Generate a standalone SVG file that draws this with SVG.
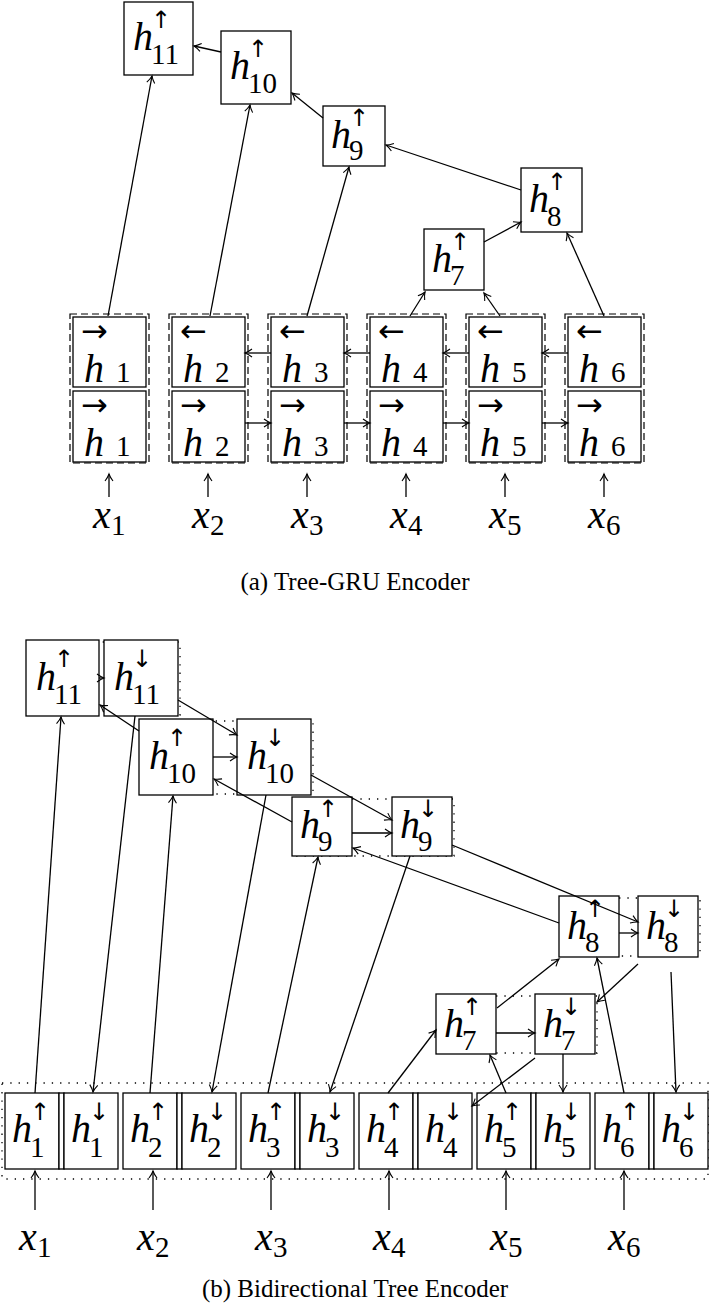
<svg xmlns="http://www.w3.org/2000/svg" width="710" height="1307" viewBox="0 0 710 1307">
<style>
.b{fill:#fff;stroke:#000;stroke-width:1.3}
.dash{fill:none;stroke:#000;stroke-width:1.2;stroke-dasharray:7,4}
.dot{fill:none;stroke:#000;stroke-width:1.3;stroke-dasharray:1.3,7}
.c line{stroke:#000;stroke-width:1.3;marker-end:url(#a)}
.h{font-family:'Liberation Serif','DejaVu Serif',serif;font-style:italic;font-size:40px}
.s{font-family:'Liberation Serif','DejaVu Serif',serif;font-style:normal;font-size:29px}
.ar{font-family:'DejaVu Sans',sans-serif;font-size:24px}
.ov{font-family:'DejaVu Sans',sans-serif;font-size:32px}
.cap{font-family:'Liberation Serif','DejaVu Serif',serif;font-size:25px}
</style>
<defs>
<marker id="a" markerWidth="10" markerHeight="10" refX="8" refY="5" orient="auto" markerUnits="userSpaceOnUse">
<path d="M1,1 Q5,4 8,5 Q5,6 1,9" fill="none" stroke="#000" stroke-width="1.1"/>
</marker>
</defs>

<!-- (a) -->
<g id="a-cols">
<g id="a-c1"><rect class="dash" x="70" y="314" width="79" height="149"/><rect class="b" x="73" y="317" width="73" height="70"/><rect class="b" x="73" y="391" width="73" height="71"/></g>
<g id="a-c2"><rect class="dash" x="169" y="314" width="79" height="149"/><rect class="b" x="172" y="317" width="73" height="70"/><rect class="b" x="172" y="391" width="73" height="71"/></g>
<g id="a-c3"><rect class="dash" x="268" y="314" width="79" height="149"/><rect class="b" x="271" y="317" width="73" height="70"/><rect class="b" x="271" y="391" width="73" height="71"/></g>
<g id="a-c4"><rect class="dash" x="367" y="314" width="79" height="149"/><rect class="b" x="370" y="317" width="73" height="70"/><rect class="b" x="370" y="391" width="73" height="71"/></g>
<g id="a-c5"><rect class="dash" x="466" y="314" width="79" height="149"/><rect class="b" x="469" y="317" width="73" height="70"/><rect class="b" x="469" y="391" width="73" height="71"/></g>
<g id="a-c6"><rect class="dash" x="565" y="314" width="79" height="149"/><rect class="b" x="568" y="317" width="73" height="70"/><rect class="b" x="568" y="391" width="73" height="71"/></g>
</g>
<g id="a-labels">
<text class="ov" x="81" y="342">→</text><text class="h" x="84" y="382">h</text><text class="s" x="116" y="382">1</text>
<text class="ov" x="81" y="416">→</text><text class="h" x="84" y="456">h</text><text class="s" x="116" y="456">1</text>
<text class="ov" x="180" y="342">←</text><text class="h" x="183" y="382">h</text><text class="s" x="215" y="382">2</text>
<text class="ov" x="180" y="416">→</text><text class="h" x="183" y="456">h</text><text class="s" x="215" y="456">2</text>
<text class="ov" x="279" y="342">←</text><text class="h" x="282" y="382">h</text><text class="s" x="314" y="382">3</text>
<text class="ov" x="279" y="416">→</text><text class="h" x="282" y="456">h</text><text class="s" x="314" y="456">3</text>
<text class="ov" x="378" y="342">←</text><text class="h" x="381" y="382">h</text><text class="s" x="413" y="382">4</text>
<text class="ov" x="378" y="416">→</text><text class="h" x="381" y="456">h</text><text class="s" x="413" y="456">4</text>
<text class="ov" x="477" y="342">←</text><text class="h" x="480" y="382">h</text><text class="s" x="512" y="382">5</text>
<text class="ov" x="477" y="416">→</text><text class="h" x="480" y="456">h</text><text class="s" x="512" y="456">5</text>
<text class="ov" x="576" y="342">←</text><text class="h" x="579" y="382">h</text><text class="s" x="611" y="382">6</text>
<text class="ov" x="576" y="416">→</text><text class="h" x="579" y="456">h</text><text class="s" x="611" y="456">6</text>
</g>
<g id="a-h11"><rect class="b" x="124" y="2" width="69" height="73"/><text class="h" x="133" y="50">h</text><text class="ar" x="151" y="28">↑</text><text class="s" x="151" y="64">11</text></g>
<g id="a-h10"><rect class="b" x="221" y="31" width="70" height="73"/><text class="h" x="230" y="79">h</text><text class="ar" x="248" y="57">↑</text><text class="s" x="248" y="93">10</text></g>
<g id="a-h9"><rect class="b" x="323" y="106" width="62" height="60"/><text class="h" x="331" y="148">h</text><text class="ar" x="349" y="126">↑</text><text class="s" x="349" y="160">9</text></g>
<g id="a-h8"><rect class="b" x="521" y="168" width="61" height="64"/><text class="h" x="529" y="212">h</text><text class="ar" x="547" y="190">↑</text><text class="s" x="547" y="226">8</text></g>
<g id="a-h7"><rect class="b" x="424" y="229" width="60" height="61"/><text class="h" x="432" y="272">h</text><text class="ar" x="450" y="250">↑</text><text class="s" x="450" y="285">7</text></g>
<g id="a-conn" class="c">
<line x1="108" y1="316" x2="152" y2="76"/>
<line x1="210" y1="316" x2="250" y2="105"/>
<line x1="307" y1="316" x2="349" y2="167"/>
<line x1="410" y1="316" x2="425" y2="292"/>
<line x1="500" y1="316" x2="484" y2="293"/>
<line x1="604" y1="316" x2="567" y2="233"/>
<line x1="484" y1="242" x2="521" y2="222"/>
<line x1="521" y1="190" x2="386" y2="145"/>
<line x1="323" y1="118" x2="292" y2="93"/>
<line x1="221" y1="52" x2="194" y2="46"/>
<line x1="271" y1="353" x2="245" y2="353"/><line x1="370" y1="353" x2="344" y2="353"/><line x1="469" y1="353" x2="443" y2="353"/><line x1="568" y1="353" x2="542" y2="353"/>
<line x1="245" y1="423" x2="271" y2="423"/><line x1="344" y1="423" x2="370" y2="423"/><line x1="443" y1="423" x2="469" y2="423"/><line x1="542" y1="423" x2="568" y2="423"/>
<line x1="109" y1="497" x2="109" y2="474"/><line x1="208" y1="497" x2="208" y2="474"/><line x1="307" y1="497" x2="307" y2="474"/><line x1="406" y1="497" x2="406" y2="474"/><line x1="505" y1="497" x2="505" y2="474"/><line x1="604" y1="497" x2="604" y2="474"/>
</g>
<g id="a-x">
<text class="h" x="93" y="528">x</text><text class="s" x="111" y="535">1</text>
<text class="h" x="192" y="528">x</text><text class="s" x="210" y="535">2</text>
<text class="h" x="291" y="528">x</text><text class="s" x="309" y="535">3</text>
<text class="h" x="390" y="528">x</text><text class="s" x="408" y="535">4</text>
<text class="h" x="489" y="528">x</text><text class="s" x="507" y="535">5</text>
<text class="h" x="588" y="528">x</text><text class="s" x="606" y="535">6</text>
</g>
<text class="cap" x="355" y="590" text-anchor="middle">(a)  Tree-GRU Encoder</text>

<!-- (b) -->
<g id="b-dots">
<rect class="dot" x="28" y="642" width="152" height="73"/>
<rect class="dot" x="141" y="721" width="172" height="73"/>
<rect class="dot" x="294" y="799" width="160" height="57"/>
<rect class="dot" x="561" y="898" width="139" height="58"/>
<rect class="dot" x="438" y="996" width="159" height="57"/>
<rect class="dot" x="2" y="1083" width="706" height="96"/>
</g>
<g id="b-h11u"><rect class="b" x="26" y="640" width="73" height="76"/><text class="h" x="36" y="690">h</text><text class="ar" x="54" y="667">↑</text><text class="s" x="54" y="704">11</text></g>
<g id="b-h11d"><rect class="b" x="104" y="640" width="74" height="76"/><text class="h" x="114" y="690">h</text><text class="ar" x="132" y="667">↓</text><text class="s" x="132" y="704">11</text></g>
<g id="b-h10u"><rect class="b" x="139" y="719" width="74" height="76"/><text class="h" x="149" y="769">h</text><text class="ar" x="167" y="746">↑</text><text class="s" x="167" y="783">10</text></g>
<g id="b-h10d"><rect class="b" x="237" y="719" width="74" height="76"/><text class="h" x="247" y="769">h</text><text class="ar" x="265" y="746">↓</text><text class="s" x="265" y="783">10</text></g>
<g id="b-h9u"><rect class="b" x="292" y="797" width="60" height="59"/><text class="h" x="300" y="838">h</text><text class="ar" x="318" y="817">↑</text><text class="s" x="318" y="851">9</text></g>
<g id="b-h9d"><rect class="b" x="392" y="797" width="60" height="59"/><text class="h" x="400" y="838">h</text><text class="ar" x="418" y="817">↓</text><text class="s" x="418" y="851">9</text></g>
<g id="b-h8u"><rect class="b" x="559" y="896" width="60" height="61"/><text class="h" x="567" y="939">h</text><text class="ar" x="585" y="917">↑</text><text class="s" x="585" y="952">8</text></g>
<g id="b-h8d"><rect class="b" x="638" y="896" width="60" height="61"/><text class="h" x="646" y="939">h</text><text class="ar" x="664" y="917">↓</text><text class="s" x="664" y="952">8</text></g>
<g id="b-h7u"><rect class="b" x="436" y="994" width="60" height="60"/><text class="h" x="444" y="1037">h</text><text class="ar" x="462" y="1015">↑</text><text class="s" x="462" y="1050">7</text></g>
<g id="b-h7d"><rect class="b" x="535" y="994" width="60" height="60"/><text class="h" x="543" y="1037">h</text><text class="ar" x="561" y="1015">↓</text><text class="s" x="561" y="1050">7</text></g>
<g id="b-bottom">
<g id="b-p1"><rect class="b" x="5" y="1093" width="54" height="76"/><rect class="b" x="59" y="1093" width="5" height="76"/><rect class="b" x="64" y="1093" width="54" height="76"/><text class="h" x="12" y="1142">h</text><text class="ar" x="30" y="1120">↑</text><text class="s" x="30" y="1157">1</text><text class="h" x="71" y="1142">h</text><text class="ar" x="89" y="1120">↓</text><text class="s" x="89" y="1157">1</text></g>
<g id="b-p2"><rect class="b" x="123" y="1093" width="54" height="76"/><rect class="b" x="177" y="1093" width="5" height="76"/><rect class="b" x="182" y="1093" width="54" height="76"/><text class="h" x="130" y="1142">h</text><text class="ar" x="148" y="1120">↑</text><text class="s" x="148" y="1157">2</text><text class="h" x="189" y="1142">h</text><text class="ar" x="207" y="1120">↓</text><text class="s" x="207" y="1157">2</text></g>
<g id="b-p3"><rect class="b" x="241" y="1093" width="54" height="76"/><rect class="b" x="295" y="1093" width="5" height="76"/><rect class="b" x="300" y="1093" width="54" height="76"/><text class="h" x="248" y="1142">h</text><text class="ar" x="266" y="1120">↑</text><text class="s" x="266" y="1157">3</text><text class="h" x="307" y="1142">h</text><text class="ar" x="325" y="1120">↓</text><text class="s" x="325" y="1157">3</text></g>
<g id="b-p4"><rect class="b" x="359" y="1093" width="54" height="76"/><rect class="b" x="413" y="1093" width="5" height="76"/><rect class="b" x="418" y="1093" width="54" height="76"/><text class="h" x="366" y="1142">h</text><text class="ar" x="384" y="1120">↑</text><text class="s" x="384" y="1157">4</text><text class="h" x="425" y="1142">h</text><text class="ar" x="443" y="1120">↓</text><text class="s" x="443" y="1157">4</text></g>
<g id="b-p5"><rect class="b" x="477" y="1093" width="54" height="76"/><rect class="b" x="531" y="1093" width="5" height="76"/><rect class="b" x="536" y="1093" width="54" height="76"/><text class="h" x="484" y="1142">h</text><text class="ar" x="502" y="1120">↑</text><text class="s" x="502" y="1157">5</text><text class="h" x="543" y="1142">h</text><text class="ar" x="561" y="1120">↓</text><text class="s" x="561" y="1157">5</text></g>
<g id="b-p6"><rect class="b" x="595" y="1093" width="54" height="76"/><rect class="b" x="649" y="1093" width="5" height="76"/><rect class="b" x="654" y="1093" width="54" height="76"/><text class="h" x="602" y="1142">h</text><text class="ar" x="620" y="1120">↑</text><text class="s" x="620" y="1157">6</text><text class="h" x="661" y="1142">h</text><text class="ar" x="679" y="1120">↓</text><text class="s" x="679" y="1157">6</text></g>
</g>
<g id="b-conn" class="c">
<line x1="35" y1="1093" x2="61" y2="717"/>
<line x1="135" y1="716" x2="93" y2="1092"/>
<line x1="150" y1="1093" x2="173" y2="796"/>
<line x1="266" y1="795" x2="212" y2="1092"/>
<line x1="268" y1="1093" x2="318" y2="857"/>
<line x1="410" y1="856" x2="330" y2="1092"/>
<line x1="388" y1="1093" x2="436" y2="1030"/>
<line x1="535" y1="1058" x2="472" y2="1106"/>
<line x1="506" y1="1093" x2="490" y2="1055"/>
<line x1="563" y1="1054" x2="563" y2="1092"/>
<line x1="624" y1="1093" x2="597" y2="958"/>
<line x1="671" y1="972" x2="676" y2="1092"/>
<line x1="497" y1="1008" x2="559" y2="959"/>
<line x1="638" y1="964" x2="597" y2="1002"/>
<line x1="496" y1="1033" x2="535" y2="1033"/>
<line x1="619" y1="933" x2="638" y2="933"/>
<line x1="352" y1="833" x2="392" y2="833"/>
<line x1="213" y1="757" x2="237" y2="757"/>
<line x1="99" y1="678" x2="104" y2="678"/>
<line x1="559" y1="923" x2="353" y2="848"/>
<line x1="452" y1="845" x2="638" y2="922"/>
<line x1="292" y1="822" x2="214" y2="779"/>
<line x1="311" y1="775" x2="392" y2="820"/>
<line x1="139" y1="731" x2="100" y2="705"/>
<line x1="178" y1="700" x2="237" y2="735"/>
<line x1="35" y1="1210" x2="35" y2="1171"/><line x1="153" y1="1210" x2="153" y2="1171"/><line x1="271" y1="1210" x2="271" y2="1171"/><line x1="389" y1="1210" x2="389" y2="1171"/><line x1="506" y1="1210" x2="506" y2="1171"/><line x1="624" y1="1210" x2="624" y2="1171"/>
</g>
<g id="b-x">
<text class="h" x="19" y="1250">x</text><text class="s" x="37" y="1257">1</text>
<text class="h" x="137" y="1250">x</text><text class="s" x="155" y="1257">2</text>
<text class="h" x="255" y="1250">x</text><text class="s" x="273" y="1257">3</text>
<text class="h" x="373" y="1250">x</text><text class="s" x="391" y="1257">4</text>
<text class="h" x="490" y="1250">x</text><text class="s" x="508" y="1257">5</text>
<text class="h" x="608" y="1250">x</text><text class="s" x="626" y="1257">6</text>
</g>
<text class="cap" x="355" y="1297" text-anchor="middle">(b)  Bidirectional Tree Encoder</text>
</svg>
